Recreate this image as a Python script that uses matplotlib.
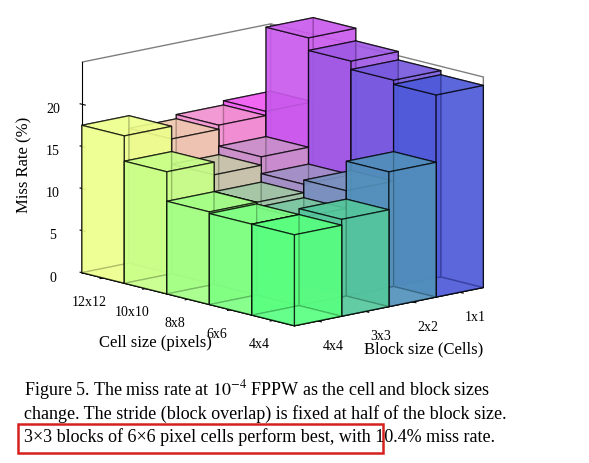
import numpy as np
import matplotlib
matplotlib.use("Agg")
import matplotlib.pyplot as plt
from matplotlib.patches import Rectangle

plt.rcParams['font.family'] = ['Liberation Serif', 'DejaVu Serif']
plt.rcParams['mathtext.fontset'] = 'stix'

cells = ["12x12", "10x10", "8x8", "6x6", "4x4"]
blocks = ["4x4", "3x3", "2x2", "1x1"]
# rows: block sizes, cols: cell sizes
miss = [
    [17.5, 14.5, 11.0, 10.8, 10.8],
    [16.0, 13.0, 11.0, 10.4, 11.5],
    [16.5, 14.0, 12.0, 12.5, 16.0],
    [17.0, 27.0, 25.5, 24.5, 24.0],
]

fig = plt.figure(figsize=(5.89, 4.63), dpi=100)
ax = fig.add_axes([-0.08, 0.15, 1.1, 0.92], projection='3d', proj_type='ortho')

c_y = np.array([0.93, 1.0, 0.55])
c_g = np.array([0.35, 1.0, 0.50])
c_b = np.array([0.30, 0.35, 0.85])
c_m = np.array([0.95, 0.35, 0.95])
nb, nc = len(blocks), len(cells)
for j in range(nb - 1, -1, -1):
    for i in range(nc):
        u = i / (nc - 1); v = j / (nb - 1)
        col = (1-u)*(1-v)*c_y + u*(1-v)*c_g + u*v*c_b + (1-u)*v*c_m
        ax.bar3d(i, j, 0, 1, 1, miss[j][i], color=tuple(col), alpha=0.7,
                 edgecolor='black', linewidth=0.9, shade=False)

ax.view_init(elev=13, azim=-42)
ax.set_box_aspect((5, 4, 3.4), zoom=1.05)
ax.set_xticks(np.arange(nc) + 0.5)
ax.set_xticklabels(cells, fontsize=10)
ax.set_yticks(np.arange(nb) + 0.5)
ax.set_yticklabels(blocks, fontsize=10)
ax.set_zticks([0, 5, 10, 15, 20])
ax.set_zticklabels(["0", "5", "10", "15", "20"], fontsize=10)
ax.set_zlim(0, 25)
ax.set_xlim(0, nc); ax.set_ylim(0, nb)
ax.zaxis._axinfo['juggled'] = (1, 2, 0)
for a in (ax.xaxis, ax.yaxis, ax.zaxis):
    a.set_rotate_label(False)
ax.set_xlabel("Cell size (pixels)", fontsize=12, labelpad=7)
ax.set_ylabel("Block size (Cells)", fontsize=12, labelpad=5)
ax.set_zlabel("Miss Rate (%)", fontsize=12, labelpad=2, rotation=90)
for a in (ax.xaxis, ax.yaxis, ax.zaxis):
    a.pane.fill = False
    a.pane.set_edgecolor('black')
    a._axinfo['grid']['linewidth'] = 0
ax.grid(False)

fs = 13
fig.text(0.04, 0.145, r"Figure 5. The miss rate at $10^{-4}$ FPPW as the cell and block sizes", fontsize=fs)
fig.text(0.04, 0.095, "change. The stride (block overlap) is fixed at half of the block size.", fontsize=fs)
fig.text(0.04, 0.045, "3×3 blocks of 6×6 pixel cells perform best, with 10.4% miss rate.", fontsize=fs)
fig.patches.append(Rectangle((0.03, 0.022), 0.62, 0.062, transform=fig.transFigure,
                             fill=False, edgecolor='#d62020', linewidth=1.8))
fig.savefig("out.png", dpi=100)
